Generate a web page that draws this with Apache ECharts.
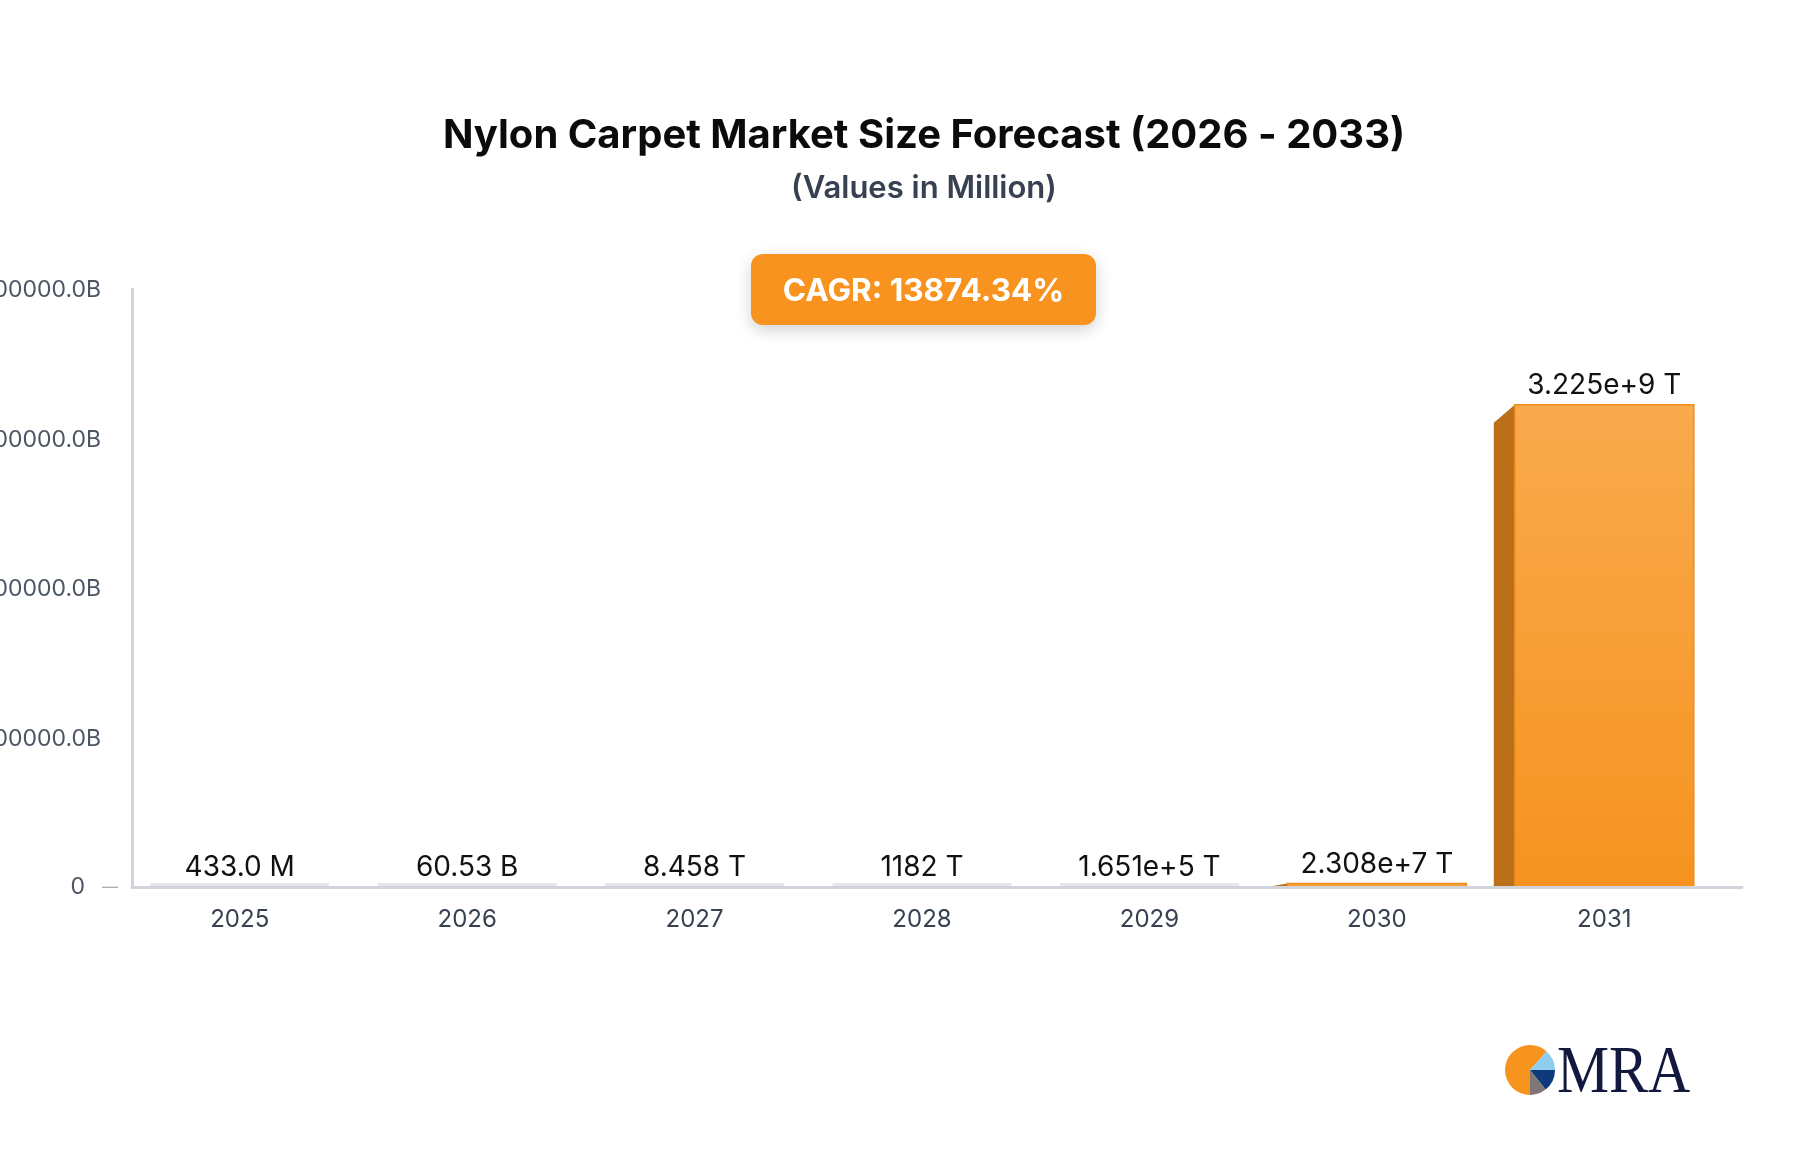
<!DOCTYPE html>
<html>
<head>
<meta charset="utf-8">
<script src="https://cdn.jsdelivr.net/npm/echarts@6/dist/echarts.min.js"></script>
<style>
  html, body { margin: 0; padding: 0; background: #ffffff; }
  #chart { width: 1800px; height: 1156px; }
</style>
</head>
<body>
<div id="chart"></div>
<script>
// ---- data (values in Million) ----
const years = ['2025', '2026', '2027', '2028', '2029', '2030', '2031'];
const marketSize = [433.0, 60530, 8458000, 1.182e9, 1.651e11, 2.308e13, 3.225e15];
const yTicks = [0, 1e15, 2e15, 3e15, 4e15];
const titleText = 'Nylon Carpet Market Size Forecast (2026 - 2033)';
const subtitleText = '(Values in Million)';
const cagrText = 'CAGR: 13874.34%';

function fmtValue(v) {
  if (v < 1e3) return Number(v).toPrecision(4) + ' M';
  if (v < 1e6) return (v / 1e3).toPrecision(4) + ' B';
  return (v / 1e6).toPrecision(4) + ' T';
}

const chart = echarts.init(document.getElementById('chart'), null, { renderer: 'canvas' });

const FRONT_W = 179, DX = 21, DY = 18;

const option = {
  backgroundColor: '#ffffff',
  animation: false,
  title: [
    { text: titleText, left: 919, top: 111, textAlign: 'center',
      textStyle: { fontFamily: 'Inter', fontWeight: 'bold', fontSize: 40, color: '#0b0b0b' } },
    { text: subtitleText, left: 919, top: 168, textAlign: 'center',
      textStyle: { fontFamily: 'Inter', fontWeight: 600, fontSize: 31, color: '#374151' } }
  ],
  grid: [
    { left: 126, right: 82, top: 289, bottom: 269, outerBoundsMode: 'none', containLabel: false },
    { left: 132, right: 58, top: 289, bottom: 269, outerBoundsMode: 'none', containLabel: false }
  ],
  xAxis: [
    { type: 'category', data: years, gridIndex: 0,
      axisLine: { show: false }, axisTick: { show: false },
      axisLabel: { margin: 21, fontFamily: 'Inter', fontSize: 24, color: '#374151' } },
    { type: 'value', gridIndex: 1, min: 0, max: 1, z: 10,
      axisLine: { show: true, lineStyle: { color: '#d1d5db', width: 3 } },
      axisTick: { show: false }, axisLabel: { show: false }, splitLine: { show: false } }
  ],
  yAxis: [
    { type: 'value', gridIndex: 0, min: yTicks[0], max: yTicks[yTicks.length - 1],
      interval: yTicks[1] - yTicks[0],
      axisLine: { show: false }, axisTick: { show: false }, splitLine: { show: false },
      axisLabel: {
        margin: 8,
        hideOverlap: false,
        formatter: function (v) {
          if (v === 0) return '{z|0}{d|—}';
          return '{n|' + (v / 1000).toFixed(1) + 'B}';
        },
        rich: {
          n: { fontFamily: 'Inter', fontSize: 23, color: '#4b5563', padding: [3, 17, 0, 0] },
          z: { fontFamily: 'Inter', fontSize: 23, color: '#4b5563', padding: [0, 17, 0, 0] },
          d: { fontFamily: 'Inter', fontSize: 16, color: '#a8acb3' }
        }
      } },
    { type: 'value', gridIndex: 1, min: 0, max: 1, z: 10,
      axisLine: { show: true, onZero: false, lineStyle: { color: '#d1d5db', width: 3 } },
      axisTick: { show: false }, axisLabel: { show: false }, splitLine: { show: false } }
  ],
  series: [{
    type: 'custom',
    xAxisIndex: 0, yAxisIndex: 0,
    data: marketSize.map((v, i) => [i, v]),
    renderItem: function (params, api) {
      const i = api.value(0), v = api.value(1);
      const top = api.coord([i, v]);
      const base = api.coord([i, 0]);
      const x = top[0], yTop = top[1], yBase = base[1];
      const l = x - FRONT_W / 2;
      const sideTop = Math.min(yTop + DY, yBase);
      return {
        type: 'group',
        children: [
          { type: 'rect', shape: { x: l, y: yBase - 4, width: FRONT_W, height: 3 },
            style: { fill: '#e5e7eb' } },
          { type: 'polygon',
            shape: { points: [[l, yTop], [l - DX, sideTop], [l - DX, yBase], [l, yBase]] },
            style: { fill: '#bb6f18' } },
          { type: 'rect', shape: { x: l, y: yTop, width: FRONT_W, height: yBase - yTop },
            style: {
              fill: new echarts.graphic.LinearGradient(0, 0, 0, 1, [
                { offset: 0, color: '#f9aa4d' }, { offset: 1, color: '#f69320' }
              ]),
              stroke: '#ec8c1f', lineWidth: 1.5
            } },
          { type: 'text',
            style: { x: x, y: yTop - 5, text: fmtValue(v), align: 'center', verticalAlign: 'bottom',
              font: '28px Inter', fill: '#111111' } }
        ]
      };
    }
  }],
  graphic: [
    { type: 'group', left: 751, top: 254, children: [
      { type: 'rect', shape: { x: 0, y: 0, width: 345, height: 71, r: 12 },
        style: { fill: '#f7931e', shadowBlur: 16, shadowColor: 'rgba(0,0,0,0.18)', shadowOffsetY: 5 } },
      { type: 'text', style: { x: 172.5, y: 38, text: cagrText, align: 'center', verticalAlign: 'middle',
        font: 'bold 31.5px Inter', fill: '#ffffff' } }
    ] },
    { type: 'group', left: 1505, top: 1040, children: [
      { type: 'sector', shape: { cx: 26, cy: 18, r: 25, r0: 0, startAngle: Math.PI / 2, endAngle: Math.PI * 2 - 0.84, clockwise: true },
        style: { fill: '#f7941d' } },
      { type: 'sector', shape: { cx: 26, cy: 18, r: 25, r0: 0, startAngle: -0.84, endAngle: 0, clockwise: true },
        style: { fill: '#8ecdf0' } },
      { type: 'sector', shape: { cx: 26, cy: 18, r: 25, r0: 0, startAngle: 0, endAngle: 0.9, clockwise: true },
        style: { fill: '#0d3b7a' } },
      { type: 'sector', shape: { cx: 26, cy: 18, r: 25, r0: 0, startAngle: 0.9, endAngle: Math.PI / 2, clockwise: true },
        style: { fill: '#7f7676' } },
      { type: 'text', x: 53, y: 0, scaleX: 0.86,
        style: { x: 0, y: 56, text: 'MRA', verticalAlign: 'bottom', font: '68px "Liberation Serif"', fill: '#13183f' } }
    ] }
  ]
};
chart.setOption(option);
</script>
</body>
</html>
